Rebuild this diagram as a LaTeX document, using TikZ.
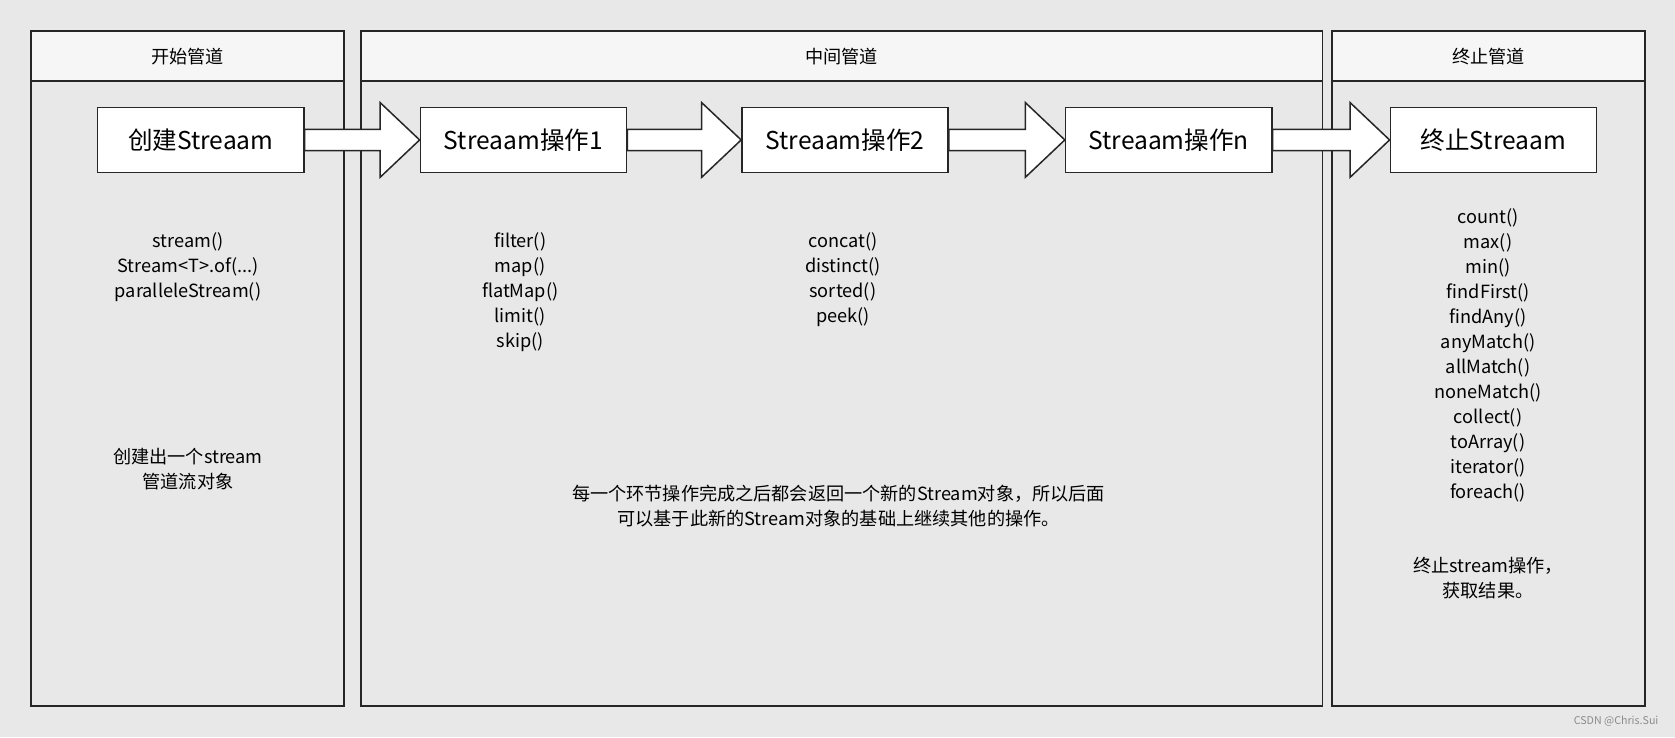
\documentclass[tikz,border=0pt]{standalone}
\usepackage{fontspec}
\setmainfont{Noto Sans CJK SC}
\usetikzlibrary{calc}
\begin{document}
\begin{tikzpicture}[x=1pt,y=-1pt,
  panel/.style={draw=black!85,line width=1.4pt,fill=black!9},
  opbox/.style={draw=black!85,line width=1.4pt,fill=white,minimum width=193pt,minimum height=61pt,inner sep=0pt,font=\fontsize{23}{25}\selectfont},
  txt/.style={align=center,font=\fontsize{17}{23.4}\selectfont,inner sep=0pt},
  barrow/.style={draw=black!85,line width=1.4pt,fill=white,line join=miter}]
\fill[black!9] (0,0) rectangle (1568,690);
\useasboundingbox (0,0) rectangle (1568,690);
% panels
\foreach \l/\r/\t/\n in {29/322/开始管道/p1,338/1238/中间管道/p2,1247/1540/终止管道/p3}{
  \draw[panel] (\l,29) rectangle (\r,661);
  \draw[panel,fill=white!60!black!9] (\l,29) rectangle (\r,76);
  \node[txt] (\n) at ({(\l+\r)/2},53) {\t};
}
% boxes
\node[opbox] (b0) at (188,131) {创建Streaam};
\node[opbox] (b1) at (490,131) {Streaam操作1};
\node[opbox] (b2) at (791,131) {Streaam操作2};
\node[opbox] (b3) at (1094,131) {Streaam操作n};
\node[opbox] (b4) at (1398,131) {终止Streaam};
\foreach \a/\b in {b0/b1,b1/b2,b2/b3,b3/b4}{
  \draw[barrow] ($(\a.east)+(0,-10)$) -- ($(\b.west)+(-37,-10)$) -- ($(\b.west)+(-37,-35)$)
    -- (\b.west) -- ($(\b.west)+(-37,35)$) -- ($(\b.west)+(-37,10)$) -- ($(\a.east)+(0,10)$) -- cycle;
}
% texts
\node[txt,anchor=north] (t1) at (176,218) {stream()\\Stream<T>.of(...)\\paralleleStream()};
\node[txt,anchor=north] (t2) at (176,419) {创建出一个stream\\管道流对象};
\node[txt,anchor=north] (t3) at (487,218) {filter()\\map()\\flatMap()\\limit()\\skip()};
\node[txt,anchor=north] (t4) at (789,218) {concat()\\distinct()\\sorted()\\peek()};
\node[txt,anchor=north] (t5) at (785,454) {每一个环节操作完成之后都会返回一个新的Stream对象，所以后面\\可以基于此新的Stream对象的基础上继续其他的操作。};
\node[txt,anchor=north] (t6) at (1393,195) {count()\\max()\\min()\\findFirst()\\findAny()\\anyMatch()\\allMatch()\\noneMatch()\\collect()\\toArray()\\iterator()\\foreach()};
\node[txt,anchor=north] (t7) at (1393,521) {终止stream操作，\\获取结果。};
\node[font=\fontsize{10}{11}\selectfont,text=black!45,anchor=east] (wm) at (1556,675) {CSDN @Chris.Sui};
\end{tikzpicture}
\end{document}
